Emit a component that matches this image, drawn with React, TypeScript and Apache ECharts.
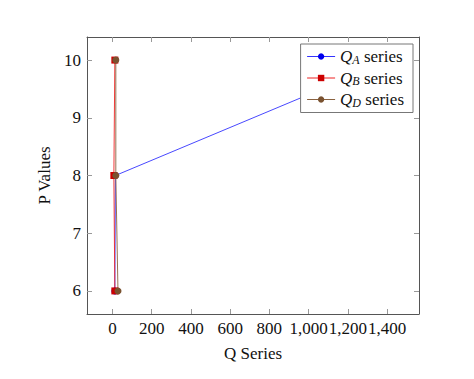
import React, { useEffect, useRef } from "react";
import * as echarts from "echarts";

const xTicks = [0, 200, 400, 600, 800, 1000, 1200, 1400];
const yTicks = [6, 7, 8, 9, 10];
const qA = [12, 15, 1420];
const pA = [6, 8, 10];
const qB = [12, 7, 12];
const pB = [6, 8, 10];
const qD = [28, 17, 17];
const pD = [6, 8, 10];
const seriesNames = ["A", "B", "D"];

const FONT = "serif";
const xMin = -130;
const xMax = 1563;
const yMin = 5.6;
const yMax = 10.4;

function pairs(xs: number[], ys: number[]) {
  return xs.map((x, i) => [x, ys[i]]);
}

export default function App() {
  const ref = useRef<HTMLDivElement>(null);
  useEffect(() => {
    if (!ref.current) return;
    const chart = echarts.init(ref.current, null, { renderer: "svg" });
    const frame = { show: true, onZero: false, lineStyle: { color: "#555", width: 1 } };
    const tickIn = (vals: number[]) => ({
      show: true,
      inside: true,
      length: 5,
      customValues: vals,
      lineStyle: { color: "#999", width: 1 },
    });
    const rich = {
      q: { fontFamily: FONT, fontStyle: "italic", fontSize: 17, lineHeight: 18, color: "#111" },
      s: { fontFamily: FONT, fontStyle: "italic", fontSize: 12, lineHeight: 8, verticalAlign: "bottom", color: "#111" },
      t: { fontFamily: FONT, fontSize: 17, lineHeight: 18, color: "#111" },
    };
    chart.setOption({
      animation: false,
      textStyle: { fontFamily: FONT },
      grid: { left: 79, right: 47, top: 29, bottom: 57, containLabel: false },
      legend: {
        orient: "vertical",
        right: 53,
        top: 36,
        padding: [4, 9, 4, 6],
        itemGap: 4,
        itemWidth: 28,
        itemHeight: 8,
        backgroundColor: "#fff",
        borderColor: "#777",
        borderWidth: 1,
        borderRadius: 0,
        lineStyle: { width: 1 },
        textStyle: { fontFamily: FONT, fontSize: 17, rich },
        formatter: (name: string) => `{q|Q}{s|${name}}{t| series}`,
        data: seriesNames,
      },
      xAxis: [
        {
          type: "value",
          min: xMin,
          max: xMax,
          position: "bottom",
          name: "Q Series",
          nameLocation: "middle",
          nameGap: 31,
          nameTextStyle: { fontFamily: FONT, fontSize: 17, color: "#111" },
          axisLine: frame,
          axisTick: tickIn(xTicks),
          axisLabel: {
            customValues: xTicks,
            margin: 6,
            fontFamily: FONT,
            fontSize: 17,
            color: "#111",
            formatter: (v: number) => v.toLocaleString("en-US"),
          },
          splitLine: { show: false },
        },
        {
          type: "value",
          min: xMin,
          max: xMax,
          position: "top",
          axisLine: frame,
          axisTick: tickIn(xTicks),
          axisLabel: { show: false },
          splitLine: { show: false },
        },
      ],
      yAxis: [
        {
          type: "value",
          min: yMin,
          max: yMax,
          position: "left",
          name: "P Values",
          nameLocation: "middle",
          nameGap: 28,
          nameRotate: 90,
          nameTextStyle: { fontFamily: FONT, fontSize: 17, color: "#111" },
          axisLine: frame,
          axisTick: tickIn(yTicks),
          axisLabel: {
            customValues: yTicks,
            margin: 6,
            fontFamily: FONT,
            fontSize: 17,
            color: "#111",
          },
          splitLine: { show: false },
        },
        {
          type: "value",
          min: yMin,
          max: yMax,
          position: "right",
          axisLine: frame,
          axisTick: tickIn(yTicks),
          axisLabel: { show: false },
          splitLine: { show: false },
        },
      ],
      series: [
        {
          name: "A",
          type: "line",
          data: pairs(qA, pA),
          symbol: "circle",
          symbolSize: 7,
          color: "#0000ee",
          lineStyle: { width: 0.9, color: "#3333ff" },
          itemStyle: { color: "#0000ee" },
        },
        {
          name: "B",
          type: "line",
          data: pairs(qB, pB),
          symbol: "rect",
          symbolSize: 7,
          color: "#cc0000",
          lineStyle: { width: 0.9, color: "#ee2222" },
          itemStyle: { color: "#cc0000" },
        },
        {
          name: "D",
          type: "line",
          data: pairs(qD, pD),
          symbol: "circle",
          symbolSize: 7,
          color: "#7a5230",
          lineStyle: { width: 0.9, color: "#8a6240" },
          itemStyle: { color: "#7a5230" },
        },
      ],
    });
    return () => chart.dispose();
  }, []);
  return <div ref={ref} style={{ width: 458, height: 363 }} />;
}
